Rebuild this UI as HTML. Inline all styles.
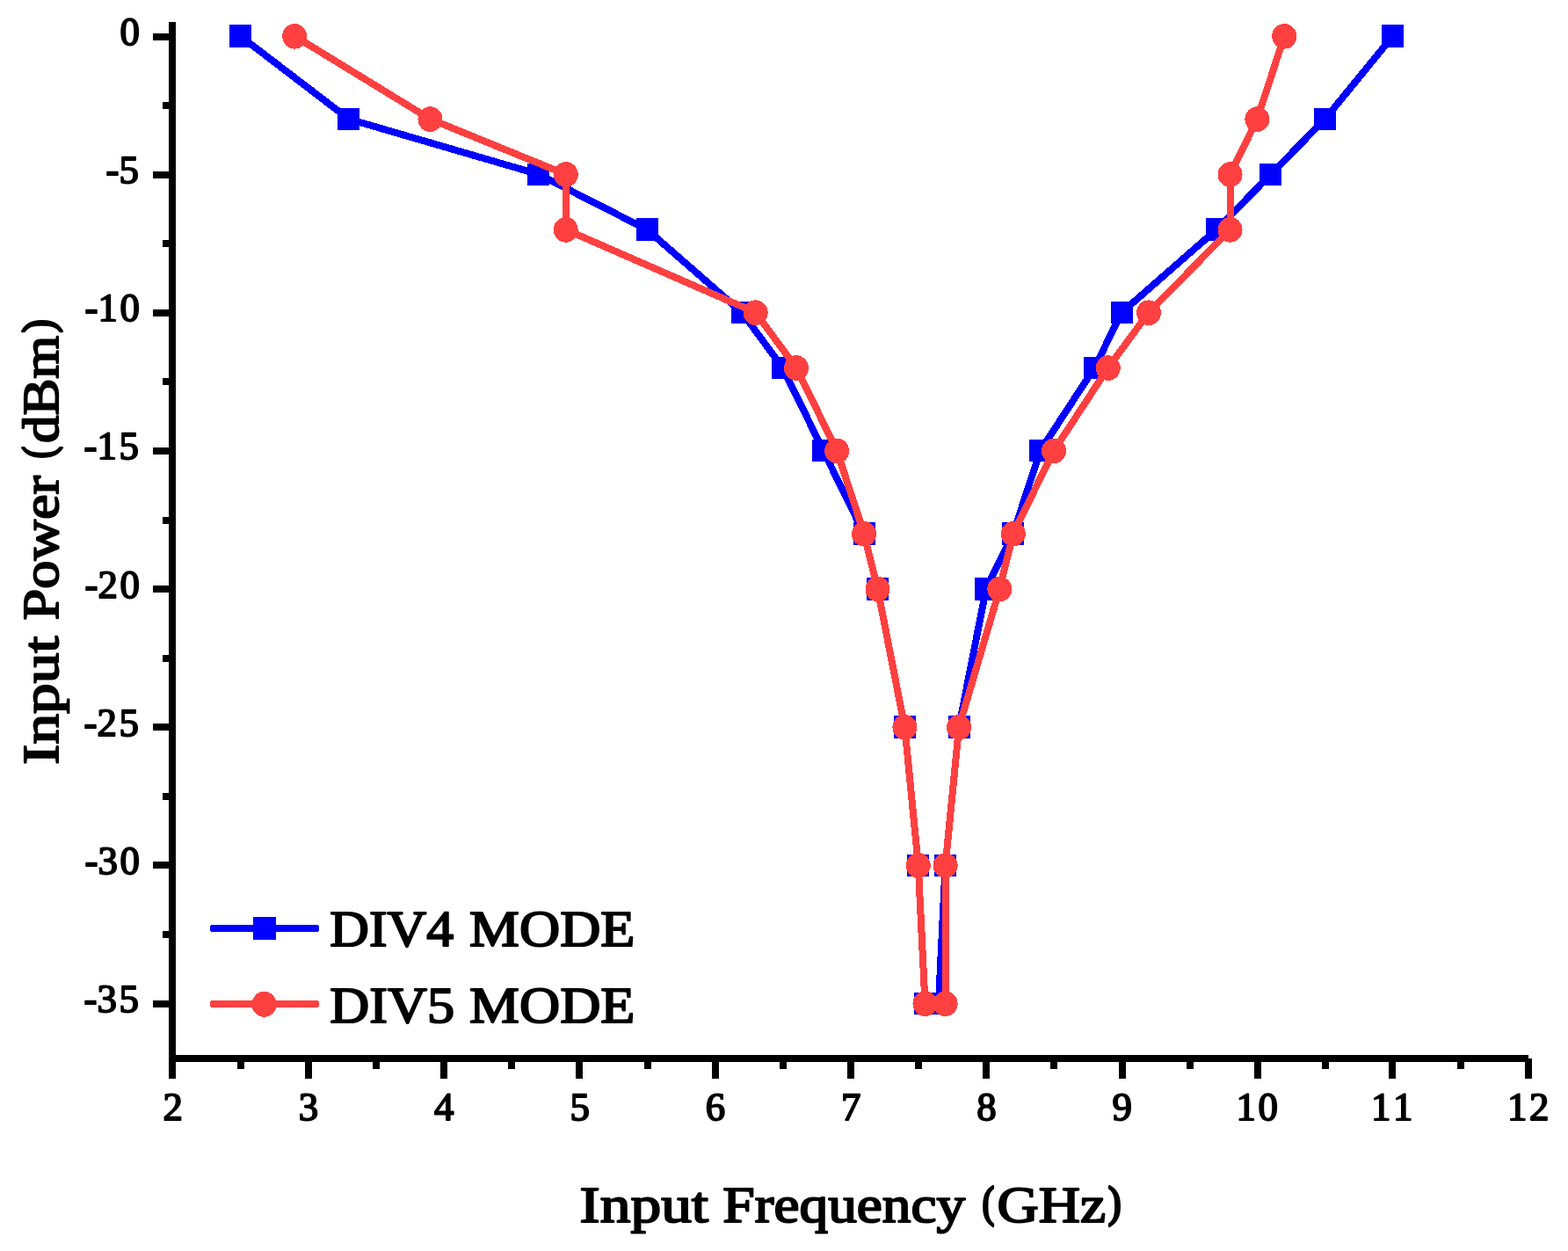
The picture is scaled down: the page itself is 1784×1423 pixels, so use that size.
<!DOCTYPE html>
<html lang="en"><head><meta charset="utf-8"><title>Input Power vs Input Frequency</title>
<style>html,body{margin:0;padding:0;background:#fff}body{width:1784px;height:1423px;overflow:hidden}svg{display:block}text{font-family:"Liberation Serif","DejaVu Serif",serif;font-weight:normal;fill:#000;stroke:#000;stroke-linejoin:round;text-rendering:geometricPrecision}.big{font-size:58.2px;stroke-width:2.0px}.tick{font-size:44.8px;stroke-width:1.9px}</style></head><body>
<svg width="1784" height="1423" viewBox="0 0 1784 1423">
<rect width="1784" height="1423" fill="#fff"/>
<g id="div4" shape-rendering="crispEdges">
<polyline points="273.52,41.1 396.92,135.42 612.88,198.3 736.27,261.18 844.25,355.5 890.52,418.38 936.8,512.7 983.07,607.02 998.5,669.9 1029.35,827.1 1044.78,984.3 1052.49,1141.5 1067.91,1141.5 1075.62,984.3 1091.05,827.1 1121.9,669.9 1152.75,607.02 1183.6,512.7 1245.3,418.38 1276.15,355.5 1384.12,261.18 1445.83,198.3 1507.53,135.42 1584.65,41.1" fill="none" stroke="#0000ff" stroke-width="8" stroke-linejoin="round" stroke-linecap="round"/>
<rect x="261.02" y="28.35" width="25.0" height="25.5" fill="#0000ff"/>
<rect x="384.42" y="122.67" width="25.0" height="25.5" fill="#0000ff"/>
<rect x="600.38" y="185.55" width="25.0" height="25.5" fill="#0000ff"/>
<rect x="723.77" y="248.43" width="25.0" height="25.5" fill="#0000ff"/>
<rect x="831.75" y="342.75" width="25.0" height="25.5" fill="#0000ff"/>
<rect x="878.02" y="405.63" width="25.0" height="25.5" fill="#0000ff"/>
<rect x="924.3" y="499.95" width="25.0" height="25.5" fill="#0000ff"/>
<rect x="970.57" y="594.27" width="25.0" height="25.5" fill="#0000ff"/>
<rect x="986" y="657.15" width="25.0" height="25.5" fill="#0000ff"/>
<rect x="1016.85" y="814.35" width="25.0" height="25.5" fill="#0000ff"/>
<rect x="1032.28" y="971.55" width="25.0" height="25.5" fill="#0000ff"/>
<rect x="1039.99" y="1128.75" width="25.0" height="25.5" fill="#0000ff"/>
<rect x="1055.41" y="1128.75" width="25.0" height="25.5" fill="#0000ff"/>
<rect x="1063.12" y="971.55" width="25.0" height="25.5" fill="#0000ff"/>
<rect x="1078.55" y="814.35" width="25.0" height="25.5" fill="#0000ff"/>
<rect x="1109.4" y="657.15" width="25.0" height="25.5" fill="#0000ff"/>
<rect x="1140.25" y="594.27" width="25.0" height="25.5" fill="#0000ff"/>
<rect x="1171.1" y="499.95" width="25.0" height="25.5" fill="#0000ff"/>
<rect x="1232.8" y="405.63" width="25.0" height="25.5" fill="#0000ff"/>
<rect x="1263.65" y="342.75" width="25.0" height="25.5" fill="#0000ff"/>
<rect x="1371.62" y="248.43" width="25.0" height="25.5" fill="#0000ff"/>
<rect x="1433.33" y="185.55" width="25.0" height="25.5" fill="#0000ff"/>
<rect x="1495.03" y="122.67" width="25.0" height="25.5" fill="#0000ff"/>
<rect x="1572.15" y="28.35" width="25.0" height="25.5" fill="#0000ff"/>
</g>
<g id="div5" shape-rendering="crispEdges">
<polyline points="335.23,41.1 489.48,135.42 643.73,198.3 643.73,261.18 859.67,355.5 905.95,418.38 952.23,512.7 983.07,607.02 998.5,669.9 1029.35,827.1 1044.78,984.3 1052.49,1141.5 1075.62,1141.5 1075.62,984.3 1091.05,827.1 1137.33,669.9 1152.75,607.02 1199.03,512.7 1260.73,418.38 1307,355.5 1399.55,261.18 1399.55,198.3 1430.4,135.42 1461.25,41.1" fill="none" stroke="#ff4040" stroke-width="8" stroke-linejoin="round" stroke-linecap="round"/>
<ellipse cx="335.23" cy="41.3" rx="14.0" ry="14.3" fill="#ff4040"/>
<ellipse cx="489.48" cy="135.62" rx="14.0" ry="14.3" fill="#ff4040"/>
<ellipse cx="643.73" cy="198.5" rx="14.0" ry="14.3" fill="#ff4040"/>
<ellipse cx="643.73" cy="261.38" rx="14.0" ry="14.3" fill="#ff4040"/>
<ellipse cx="859.67" cy="355.7" rx="14.0" ry="14.3" fill="#ff4040"/>
<ellipse cx="905.95" cy="418.58" rx="14.0" ry="14.3" fill="#ff4040"/>
<ellipse cx="952.23" cy="512.9" rx="14.0" ry="14.3" fill="#ff4040"/>
<ellipse cx="983.07" cy="607.22" rx="14.0" ry="14.3" fill="#ff4040"/>
<ellipse cx="998.5" cy="670.1" rx="14.0" ry="14.3" fill="#ff4040"/>
<ellipse cx="1029.35" cy="827.3" rx="14.0" ry="14.3" fill="#ff4040"/>
<ellipse cx="1044.78" cy="984.5" rx="14.0" ry="14.3" fill="#ff4040"/>
<ellipse cx="1052.49" cy="1141.7" rx="14.0" ry="14.3" fill="#ff4040"/>
<ellipse cx="1075.62" cy="1141.7" rx="14.0" ry="14.3" fill="#ff4040"/>
<ellipse cx="1075.62" cy="984.5" rx="14.0" ry="14.3" fill="#ff4040"/>
<ellipse cx="1091.05" cy="827.3" rx="14.0" ry="14.3" fill="#ff4040"/>
<ellipse cx="1137.33" cy="670.1" rx="14.0" ry="14.3" fill="#ff4040"/>
<ellipse cx="1152.75" cy="607.22" rx="14.0" ry="14.3" fill="#ff4040"/>
<ellipse cx="1199.03" cy="512.9" rx="14.0" ry="14.3" fill="#ff4040"/>
<ellipse cx="1260.73" cy="418.58" rx="14.0" ry="14.3" fill="#ff4040"/>
<ellipse cx="1307" cy="355.7" rx="14.0" ry="14.3" fill="#ff4040"/>
<ellipse cx="1399.55" cy="261.38" rx="14.0" ry="14.3" fill="#ff4040"/>
<ellipse cx="1399.55" cy="198.5" rx="14.0" ry="14.3" fill="#ff4040"/>
<ellipse cx="1430.4" cy="135.62" rx="14.0" ry="14.3" fill="#ff4040"/>
<ellipse cx="1461.25" cy="41.3" rx="14.0" ry="14.3" fill="#ff4040"/>
</g>
<g id="axes" fill="#000">
<rect x="192" y="25" width="8" height="1183.0"/>
<rect x="192" y="1200.0" width="1547" height="8"/>
<rect x="192" y="1204.0" width="8" height="23"/>
<rect x="347" y="1204.0" width="8" height="23"/>
<rect x="501" y="1204.0" width="8" height="23"/>
<rect x="655" y="1204.0" width="8" height="23"/>
<rect x="810" y="1204.0" width="8" height="23"/>
<rect x="964" y="1204.0" width="8" height="23"/>
<rect x="1118" y="1204.0" width="8" height="23"/>
<rect x="1273" y="1204.0" width="8" height="23"/>
<rect x="1427" y="1204.0" width="8" height="23"/>
<rect x="1580" y="1204.0" width="8" height="23"/>
<rect x="1735" y="1204.0" width="8" height="23"/>
<rect x="270" y="1204.0" width="8" height="12"/>
<rect x="424" y="1204.0" width="8" height="12"/>
<rect x="578" y="1204.0" width="8" height="12"/>
<rect x="733" y="1204.0" width="8" height="12"/>
<rect x="887" y="1204.0" width="8" height="12"/>
<rect x="1041" y="1204.0" width="8" height="12"/>
<rect x="1195" y="1204.0" width="8" height="12"/>
<rect x="1350" y="1204.0" width="8" height="12"/>
<rect x="1504" y="1204.0" width="8" height="12"/>
<rect x="1658" y="1204.0" width="8" height="12"/>
<rect x="174" y="38" width="22" height="8"/>
<rect x="174" y="195" width="22" height="8"/>
<rect x="174" y="352" width="22" height="8"/>
<rect x="174" y="509" width="22" height="8"/>
<rect x="174" y="666" width="22" height="8"/>
<rect x="174" y="823" width="22" height="8"/>
<rect x="174" y="980" width="22" height="8"/>
<rect x="174" y="1138" width="22" height="8"/>
<rect x="185" y="116" width="11" height="8"/>
<rect x="185" y="273" width="11" height="8"/>
<rect x="185" y="430" width="11" height="8"/>
<rect x="185" y="588" width="11" height="8"/>
<rect x="185" y="745" width="11" height="8"/>
<rect x="185" y="902" width="11" height="8"/>
<rect x="185" y="1059" width="11" height="8"/>
</g>
<g id="xticklabels" class="tick">
<text x="185.49" y="1274">2</text>
<text x="339.8" y="1274">3</text>
<text x="494.1" y="1274">4</text>
<text x="648.4" y="1274">5</text>
<text x="802.7" y="1274">6</text>
<text x="957" y="1274">7</text>
<text x="1111.3" y="1274">8</text>
<text x="1265.6" y="1274">9</text>
<text x="1406.5 1431.5" y="1274">10</text>
<text x="1560 1585" y="1274">11</text>
<text x="1715.1 1740.1" y="1274">12</text>
</g>
<g id="yticklabels" class="tick">
<text x="136.4" y="51.15">0</text>
<text x="120.48 135.4" y="208.15">-5</text>
<text x="96.48 111.4 136.4" y="365.15">-10</text>
<text x="95.48 110.4 135.4" y="522.15">-15</text>
<text x="96.48 111.4 136.4" y="680.15">-20</text>
<text x="95.48 110.4 135.4" y="837.15">-25</text>
<text x="96.48 111.4 136.4" y="994.15">-30</text>
<text x="95.48 110.4 135.4" y="1151.15">-35</text>
</g>
<text id="xtitle" class="big"><tspan x="659.56" y="1389.85" textLength="146.62" lengthAdjust="spacingAndGlyphs">Input</tspan> <tspan x="822.34" y="1389.85" textLength="275.87" lengthAdjust="spacingAndGlyphs">Frequency</tspan> <tspan x="1117.4" y="1383.95" font-size="49.9" stroke-width="3.0" textLength="13.72" lengthAdjust="spacingAndGlyphs">(</tspan><tspan x="1134.42" y="1389.85" textLength="123.57" lengthAdjust="spacingAndGlyphs">GHz</tspan><tspan x="1260.77" y="1383.95" font-size="49.9" stroke-width="3.0" textLength="14.89" lengthAdjust="spacingAndGlyphs">)</tspan></text>
<text id="ytitle" class="big" transform="translate(66 868.3) rotate(-90)"><tspan x="-1.34" y="0" textLength="146.17" lengthAdjust="spacingAndGlyphs">Input</tspan> <tspan x="162.75" y="0" textLength="164.44" lengthAdjust="spacingAndGlyphs">Power</tspan> <tspan x="346.82" y="-5.9" font-size="49.9" stroke-width="3.0" textLength="13.59" lengthAdjust="spacingAndGlyphs">(</tspan><tspan x="364.36" y="0" textLength="122.11" lengthAdjust="spacingAndGlyphs">dBm</tspan><tspan x="490.17" y="-5.9" font-size="49.9" stroke-width="3.0" textLength="14.94" lengthAdjust="spacingAndGlyphs">)</tspan></text>
<g id="legend" shape-rendering="crispEdges">
<rect x="238.8" y="1052" width="124.3" height="8" rx="3" fill="#0000ff"/>
<rect x="288" y="1043" width="26" height="26" fill="#0000ff"/>
<text class="big"><tspan x="375.29" y="1076" textLength="140.84" lengthAdjust="spacingAndGlyphs">DIV4</tspan> <tspan x="534.05" y="1076" textLength="188.4" lengthAdjust="spacingAndGlyphs">MODE</tspan></text>
<rect x="238.8" y="1138" width="124.3" height="8" rx="3" fill="#ff4040"/>
<ellipse cx="300.6" cy="1142.3" rx="14.0" ry="14.5" fill="#ff4040"/>
<text class="big"><tspan x="375.28" y="1162.9" textLength="141.75" lengthAdjust="spacingAndGlyphs">DIV5</tspan> <tspan x="534.05" y="1162.9" textLength="188.4" lengthAdjust="spacingAndGlyphs">MODE</tspan></text>
</g>
</svg></body></html>
